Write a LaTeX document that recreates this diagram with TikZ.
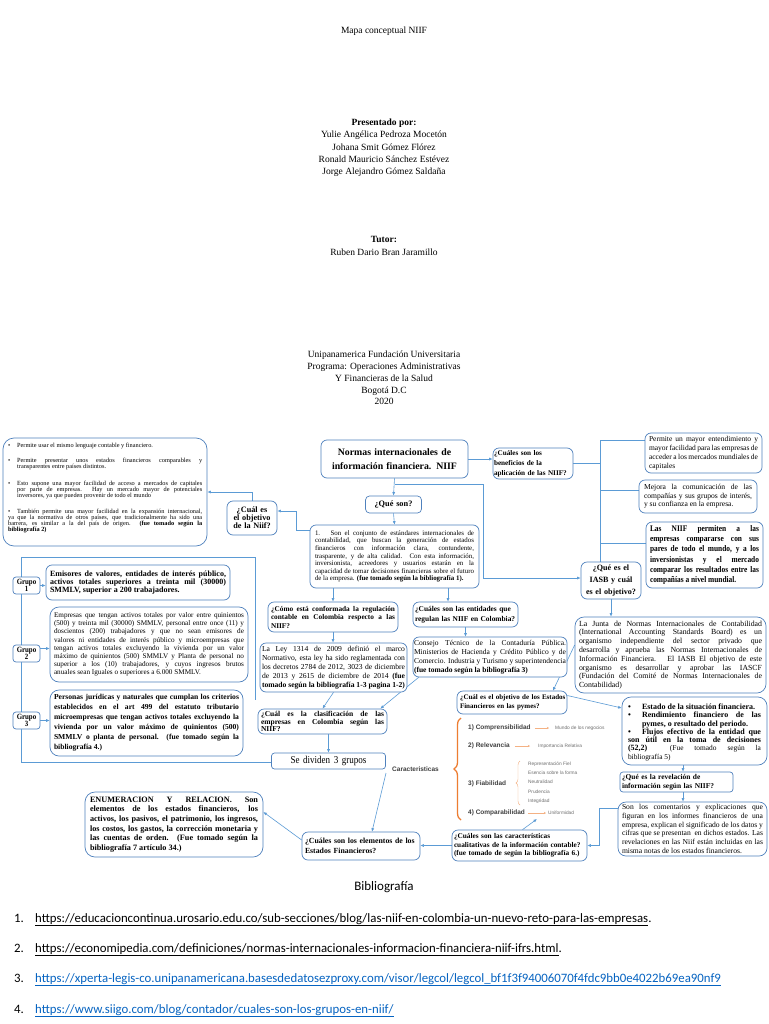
\documentclass[tikz,border=0pt]{standalone}
\usepackage{fontspec}
\setmainfont{Liberation Serif}
\newfontfamily\sansf{Liberation Sans}
\newfontfamily\calib{Carlito}
\newfontfamily\cnd{Liberation Serif}[FakeStretch=0.86]
\usetikzlibrary{arrows.meta,decorations.pathreplacing,calc}
\definecolor{boxblue}{RGB}{79,129,189}
\definecolor{lineblue}{RGB}{91,155,213}
\definecolor{orng}{RGB}{237,125,49}
\definecolor{lorng}{RGB}{244,177,131}
\definecolor{cgray}{RGB}{64,64,64}
\definecolor{sgray}{RGB}{110,110,110}
\definecolor{linkblue}{RGB}{5,99,193}
\newcommand\fsz[2]{\fontsize{#1}{#2}\selectfont}
\newcommand\bul[2][11pt]{\par\hangindent=#1\hangafter=1\noindent\makebox[#1][l]{\textbullet}#2}
\hyphenpenalty=10000
\exhyphenpenalty=10000
\tolerance=10000
\hbadness=10000
\pgfdeclarelayer{bg}
\pgfsetlayers{bg,main}
\tikzset{
 bx/.style={draw=boxblue, line width=0.7pt, rounded corners=6pt, fill=white, inner xsep=3pt, inner ysep=1pt},
 rect/.style n args={4}{at={(#1/2+#3/2,#2/2+#4/2)}, minimum width={(#3-#1)*1pt}, minimum height={(#4-#2)*1pt}},
 conn/.style={draw=lineblue, line width=0.6pt, -{Latex[length=3.5pt,width=3pt]}},
 ln/.style={draw=lineblue, line width=0.6pt},
 carr/.style={draw=lorng, line width=0.5pt, -{Stealth[length=2.2pt,width=2.2pt]}},
 chead/.style={anchor=west, font=\sansf\bfseries\fsz{6.5}{7.5}, text=cgray, inner sep=0pt},
 csub/.style={anchor=west, font=\sansf\fsz{4.8}{5.5}, text=sgray, inner sep=0pt},
 bibn/.style={anchor=base west, font=\calib\fsz{12.8}{15}, inner sep=0pt},
}
\begin{document}
\begin{tikzpicture}[x=1pt,y=-1pt]
\useasboundingbox (0,0) rectangle (768,1024);
\begin{pgfonlayer}{bg}
\fill[white] (0,0) rectangle (768,1024);
\end{pgfonlayer}

% ---------- title page text ----------
\node[font=\fsz{9.5}{11}] (title) at (384,31) {Mapa conceptual NIIF};
\node[align=center, font=\fsz{9.5}{12.3}, inner sep=0pt] (pres) at (384,148) {\textbf{Presentado por:}\\Yulie Angélica Pedroza Mocetón\\Johana Smit Gómez Flórez\\Ronald Mauricio Sánchez Estévez\\Jorge Alejandro Gómez Saldaña};
\node[align=center, font=\fsz{9.5}{12.3}, inner sep=0pt] (tutor) at (384,246) {\textbf{Tutor:}\\Ruben Dario Bran Jaramillo};
\node[align=center, font=\fsz{9.5}{11.8}, inner sep=0pt] (uni) at (384,378) {Unipanamerica Fundación Universitaria\\Programa: Operaciones Administrativas\\Y Financieras de la Salud\\Bogotá D.C\\2020};

% ---------- boxes ----------
\node[bx, rounded corners=11pt, rect={3}{438}{207}{546}] (l1) {};
\node[anchor=north west, inner sep=0pt, text width=194pt, align=justify, font=\fsz{6.3}{6}] (l1txt) at (8,441.5) {\bul[9pt]{Permite usar el mismo lenguaje contable y financiero.}\par\vspace{9pt}\bul[9pt]{Permite presentar unos estados financieros comparables y\linebreak transparentes entre países distintos.}\par\vspace{11pt}\bul[9pt]{Esto supone una mayor facilidad de acceso a mercados de capitales\linebreak por parte de empresas. Hay un mercado mayor de potenciales\linebreak inversores, ya que pueden provenir de todo el mundo}\par\vspace{10pt}\bul[9pt]{También permite una mayor facilidad en la expansión internacional,\linebreak ya que la normativa de otros países, que tradicionalmente ha sido una\linebreak barrera, es similar a la del país de origen. \textbf{(fue tomado según la\linebreak bibliografía 2)}}};

\node[bx, rect={227}{501}{277}{535}, inner xsep=1pt, text width=48pt, align=center, font=\bfseries\fsz{8.2}{8.2}] (cual) {¿Cuál es\\el objetivo\\de la Niif?};

\node[bx, rect={321}{440}{468}{478}, text width=141pt, align=center, font=\bfseries\fsz{9.8}{13.5}] (normas) {Normas internacionales de\\información financiera. NIIF};

\node[bx, rounded corners=4pt, rect={367}{496}{420}{513}, text width=50pt, align=center, font=\bfseries\fsz{8.3}{9}] (queson) {¿Qué son?};

\node[bx, rect={310}{525}{479}{588}, inner xsep=5pt, text width=159pt, align=justify, font=\fsz{6.9}{7.6}] (def) {1.~ Son el conjunto de estándares internacionales de contabilidad, que buscan la generación de estados financieros con información clara, contundente, trasparente, y de alta calidad. Con esta información, inversionista, acreedores y usuarios estarán en la capacidad de tomar decisiones financieras sobre el futuro de la empresa. \textbf{(fue tomado según la bibliografía 1).}};

\node[bx, rect={493}{448}{573}{479}, inner xsep=1pt, text width=78pt, align=left, font=\bfseries\fsz{7.2}{10}] (benef) {¿Cuáles son los\\beneficios de la\\aplicación de las NIIF?};

\node[bx, rect={645}{433}{762}{473}, inner xsep=4pt, text width=109pt, align=justify, font=\fsz{7.5}{8.9}] (rb1) {Permite un mayor entendimiento y mayor facilidad para las empresas de acceder a los mercados mundiales de capitales};

\node[bx, rect={639}{480}{757}{513}, inner xsep=5pt, text width=108pt, align=justify, font=\fsz{7.6}{8.6}] (rb2) {Mejora la comunicación de las\linebreak compañías y sus grupos de interés,\linebreak y su confianza en la empresa.};

\node[bx, rect={646}{522}{763}{588}, inner xsep=4pt, text width=109pt, align=justify, font=\cnd\bfseries\fsz{8.6}{10.2}] (rb3) {Las NIIF permiten a las\linebreak empresas compararse con sus\linebreak pares de todo el mundo, y a los\linebreak inversionistas y el mercado\linebreak comparar los resultados entre las\linebreak compañías a nivel mundial.};

\node[bx, rect={581}{562}{641}{599}, inner xsep=1pt, text width=58pt, align=center, font=\bfseries\fsz{8.1}{11.8}] (iasbq) {¿Qué es el\\IASB y cuál\\es el objetivo?};

\node[bx, rounded corners=9pt, rect={575}{617}{766}{693}, inner xsep=4pt, text width=183pt, align=justify, font=\fsz{7.8}{8.8}] (iasbt) {La Junta de Normas Internacionales de Contabilidad\linebreak (International Accounting Standards Board) es un\linebreak organismo independiente del sector privado que\linebreak desarrolla y aprueba las Normas Internacionales de\linebreak Información Financiera. \ El IASB El objetivo de este\linebreak organismo es desarrollar y aprobar las IASCF\linebreak (Fundación del Comité de Normas Internacionales de\linebreak Contabilidad)};

\node[bx, rect={268}{602}{398}{632}, text width=124pt, align=justify, font=\bfseries\fsz{7.3}{8.5}] (como) {¿Cómo está conformada la regulación contable en Colombia respecto a las NIIF?};

\node[bx, rect={413}{602}{518}{627}, inner xsep=2pt, text width=101pt, align=left, font=\bfseries\fsz{7.4}{9.5}] (ent) {¿Cuáles son las entidades que\\regulan las NIIF en Colombia?};

\node[bx, rect={260}{643}{407}{692}, inner xsep=2pt, text width=143pt, align=justify, font=\fsz{7.6}{9}] (ley) {La Ley 1314 de 2009 definió el marco\linebreak Normativo, esta ley ha sido reglamentada con\linebreak los decretos 2784 de 2012, 3023 de diciembre\linebreak de 2013 y 2615 de diciembre de 2014 \textbf{(fue\linebreak tomado según la bibliografía 1-3 pagina 1-2)}};

\node[bx, rect={413}{637}{567}{677}, inner xsep=1pt, text width=152pt, align=justify, font=\fsz{7.5}{9}] (consejo) {Consejo Técnico de la Contaduría Pública.\linebreak Ministerios de Hacienda y Crédito Público y de\linebreak Comercio. Industria y Turismo y superintendencia\linebreak \textbf{(fue tomado según la bibliografía 3)}};

\node[bx, rect={258}{709}{387}{734}, text width=123pt, align=justify, font=\bfseries\fsz{7.5}{7.7}] (clasif) {¿Cuál es la clasificación de las\linebreak empresas en Colombia según las\linebreak NIIF?};

\node[bx, rounded corners=3pt, rect={272}{753}{385}{769}, text width=108pt, align=center, font=\cnd\fsz{10.5}{11}] (sediv) {Se dividen 3 grupos};

\node[bx, rounded corners=3pt, rect={13}{577}{40}{594}, inner xsep=0pt, text width=27pt, align=center, font=\cnd\bfseries\fsz{8}{7}] (g1) {Grupo\\1};
\node[bx, rounded corners=3pt, rect={13}{645}{40}{662}, inner xsep=0pt, text width=27pt, align=center, font=\cnd\bfseries\fsz{8}{7}] (g2) {Grupo\\2};
\node[bx, rounded corners=3pt, rect={13}{712}{40}{729}, inner xsep=0pt, text width=27pt, align=center, font=\cnd\bfseries\fsz{8}{7}] (g3) {Grupo\\3};

\node[bx, rect={46}{565}{230}{600}, inner xsep=4pt, text width=176pt, align=justify, font=\bfseries\fsz{8}{8.2}] (g1t) {Emisores de valores, entidades de interés público,\linebreak activos totales superiores a treinta mil (30000)\linebreak SMMLV, superior a 200 trabajadores.};

\node[bx, rounded corners=9pt, rect={50}{607}{248}{682}, inner xsep=4pt, text width=190pt, align=justify, font=\fsz{7.2}{8.2}] (g2t) {Empresas que tengan activos totales por valor entre quinientos\linebreak (500) y treinta mil (30000) SMMLV, personal entre once (11) y\linebreak doscientos (200) trabajadores y que no sean emisores de\linebreak valores ni entidades de interés público y microempresas que\linebreak tengan activos totales excluyendo la vivienda por un valor\linebreak máximo de quinientos (500) SMMLV y Planta de personal no\linebreak superior a los (10) trabajadores, y cuyos ingresos brutos\linebreak anuales sean Iguales o superiores a 6.000 SMMLV.};

\node[bx, rounded corners=9pt, rect={50}{690}{243}{756}, inner xsep=4pt, text width=185pt, align=justify, font=\bfseries\fsz{7.6}{10}] (g3t) {Personas jurídicas y naturales que cumplan los criterios\linebreak establecidos en el art 499 del estatuto tributario\linebreak microempresas que tengan activos totales excluyendo la\linebreak vivienda por un valor máximo de quinientos (500)\linebreak SMMLV o planta de personal. (fue tomado según la\linebreak bibliografía 4.)};

\node[bx, rect={457}{691}{567}{714}, inner xsep=0pt, text width=110pt, align=left, font=\bfseries\fsz{7}{8.6}] (objef) {\hspace{3pt}¿Cuál es el objetivo de los Estados\\\hspace*{3pt}Financieros en las pymes?};

\node[bx, rounded corners=9pt, rect={622}{697}{767}{765}, inner xsep=6pt, text width=133pt, align=justify, font=\bfseries\fsz{8}{8.3}] (bul) {\bul[14pt]{Estado de la situación financiera.}\bul[14pt]{Rendimiento financiero de las\linebreak pymes, o resultado del periodo.}\bul[14pt]{Flujos efectivo de la entidad que\linebreak son útil en la toma de decisiones\linebreak (52,2) {\mdseries\fsz{7.4}{8.3} (Fue tomado según la\linebreak bibliografía 5)}}};

\node[bx, rounded corners=3pt, rect={620}{772}{733}{792}, inner xsep=2pt, text width=109pt, align=left, font=\bfseries\fsz{7.4}{8.8}] (revq) {¿Qué es la revelación de\\información según las NIIF?};

\node[bx, rounded corners=8pt, rect={618}{802}{767}{856}, inner xsep=4pt, text width=141pt, align=justify, font=\fsz{7.6}{8.8}] (revt) {Son los comentarios y explicaciones que\linebreak figuran en los informes financieros de una\linebreak empresa, explican el significado de los datos y\linebreak cifras que se presentan \ en dichos estados. Las\linebreak revelaciones en las Niif están incluidas en las\linebreak misma notas de los estados financieros.};

\node[bx, rect={452}{830}{587}{861}, inner xsep=2pt, text width=131pt, align=left, font=\bfseries\fsz{7.3}{8.6}] (carq) {¿Cuáles son las características\\cualitativas de la información contable?\\(fue tomado de según la bibliografía 6.)};

\node[bx, rect={302}{832}{420}{860}, inner xsep=3pt, text width=112pt, align=left, font=\bfseries\fsz{7.8}{9.8}] (elem) {¿Cuáles son los elementos de los\\Estados Financieros?};

\node[bx, rounded corners=10pt, rect={85}{792}{263}{857}, inner xsep=5pt, text width=168pt, align=justify, font=\bfseries\fsz{8.2}{9.7}] (enum) {ENUMERACION Y RELACION. Son\linebreak elementos de los estados financieros, los\linebreak activos, los pasivos, el patrimonio, los ingresos,\linebreak los costos, los gastos, la corrección monetaria y\linebreak las cuentas de orden. (Fue tomado según la\linebreak bibliografía 7 artículo 34.)};

% ---------- Caracteristicas ----------
\node[chead] (carlab) at (392,769) {Caracteristicas};
\draw[orng, line width=1.3pt, decorate, decoration={brace, amplitude=7pt}] (461,820) -- (461,718);
\node[chead] (c1) at (468,728) {1) Comprensibilidad};
\node[csub] (c1s) at (555,728) {Mundo de los negocios};
\node[chead] (c2) at (468,746) {2) Relevancia};
\node[csub] (c2s) at (538,746) {Importancia Relativa};
\node[chead] (c3) at (468,784) {3) Fiabilidad};
\draw[lorng, line width=0.4pt, decorate, decoration={brace, amplitude=4pt}] (520,805) -- (520,761);
\node[csub] (f1) at (528,764) {Representación Fiel};
\node[csub] (f2) at (528,773) {Esencia sobre la forma};
\node[csub] (f3) at (528,782) {Neutralidad};
\node[csub] (f4) at (528,792) {Prudencia};
\node[csub] (f5) at (528,801) {Integridad};
\node[chead] (c4) at (468,813) {4) Comparabilidad};
\node[csub] (unif) at (548,813) {Uniformidad};
\draw[carr] ([xshift=4pt]c1.east) -- ([xshift=-6pt]c1s.west);
\draw[carr] ([xshift=5pt]c2.east) -- ([xshift=-8pt]c2s.west);
\draw[carr] ([xshift=3pt]c4.east) -- ([xshift=-2pt]unif.west);

% ---------- Bibliography ----------
\node[font=\calib\fsz{13}{15}] (bib) at (384,887) {Bibliografía};
\node[bibn] (b1n) at (14,922) {1.};
\node[bibn] (b1) at (35,922) {\underline{https://educacioncontinua.urosario.edu.co/sub-secciones/blog/las-niif-en-colombia-un-nuevo-reto-para-las-empresas}.};
\node[bibn] (b2n) at (14,952) {2.};
\node[bibn] (b2) at (35,952) {\underline{https://economipedia.com/definiciones/normas-internacionales-informacion-financiera-niif-ifrs.html}.};
\node[bibn] (b3n) at (14,982) {3.};
\node[bibn, text=linkblue] (b3) at (35,982) {\underline{https://xperta-legis-co.unipanamericana.basesdedatosezproxy.com/visor/legcol/legcol\_bf1f3f94006070f4fdc9bb0e4022b69ea90nf9}};
\node[bibn] (b4n) at (14,1013) {4.};
\node[bibn, text=linkblue] (b4) at (35,1013) {\underline{https://www.siigo.com/blog/contador/cuales-son-los-grupos-en-niif/}};

% ---------- connectors ----------
\begin{pgfonlayer}{bg}
\draw[conn] (normas.east) -- (normas.east -| benef.west);
\draw[conn] (normas.south) -- (queson.north);
\draw[conn] (queson.south) -- (def.north);
\coordinate (j1) at (394.5,484);
\coordinate (jx) at (483,578);
\draw[conn] (j1) -| (jx) -- (jx -| iasbq.west);
\coordinate (bk) at (600,440);
\coordinate (bk2) at (600,490);
\coordinate (bk3) at (600,543);
\draw[ln] (benef.east) -- (benef.east -| bk);
\draw[ln] (bk) -- (bk |- iasbq.north);
\draw[ln] (bk) -- (bk -| rb1.west);
\draw[ln] (bk2) -- (bk2 -| rb2.west);
\draw[ln] (bk3) -- (bk3 -| rb3.west);
\draw[conn] ([yshift=26.5pt]def.west) -- ++(-13,0) |- ([yshift=7pt]cual.east);
\draw[conn] (cual.north) |- (l1.east);
\draw[conn] (como.north |- def.south) -- (como.north);
\coordinate (de) at ([xshift=-17.5pt]ent.north);
\draw[conn] (de |- def.south) -- (de);
\draw[conn] (como.south) -- (como.south |- ley.north);
\draw[conn] (ent.south) -- (ent.south |- consejo.north);
\draw[conn] (ley.south) -- (clasif.north);
\draw[conn] ([xshift=6pt]consejo.south west) -- ([xshift=-7pt]clasif.north east);
\draw[conn] (sediv.north |- clasif.south) -- (sediv.north);
% grupos
\coordinate (gtl) at (21,557);
\coordinate (gtr) at (255,557);
\coordinate (gtb) at (255,700);
\coordinate (gbl) at (21,762);
\draw[ln] (gbl) -- (gtl) -- (gtr) -- (gtb);
\draw[ln] (gbl) -- (gbl -| sediv.west);
\draw[conn] (g1.east) -- (g1.east -| g1t.west);
\draw[conn] ([yshift=5pt]g2.east) -- ([yshift=5pt]g2.east -| g2t.west);
\draw[conn] (g3.east) -- (g3.east -| g3t.west);
% right side
\draw[conn] (iasbq.south) -- (iasbq.south |- iasbt.north);
\draw[conn] ([yshift=10pt]iasbt.west) -- ([xshift=41pt]objef.north);
\draw[conn] ([yshift=7pt]objef.east) -- ([yshift=23pt]bul.west);
\coordinate (bx1) at ([xshift=6.5pt]revq.north);
\draw[conn] (bx1 |- bul.south) -- (bx1);
\draw[conn] (bx1 |- revq.south) -- (bx1 |- revt.north);
\draw[conn] ([yshift=21pt]revt.west) -- ++(-18,0) |- (carq.east);
\draw[conn] (carq.west) -- (carq.west -| elem.east);
\draw[conn] ([yshift=6pt]elem.west) -- ([yshift=12.5pt]enum.east);
\draw[conn] ([xshift=3pt]carq.north) -- ([xshift=-11pt,yshift=-6pt]unif.west);
\draw[conn] ([xshift=-6pt,yshift=-4pt]carlab.west) -- ([xshift=11pt]elem.north);
\end{pgfonlayer}
\end{tikzpicture}
\end{document}
